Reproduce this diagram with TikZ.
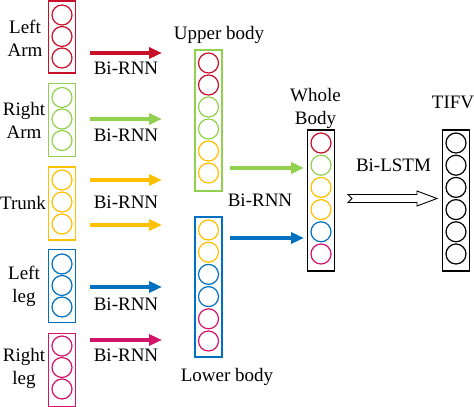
\documentclass[tikz,border=0pt]{standalone}
\usepackage{fontspec}
\setmainfont{Liberation Serif}
\usepackage{tikz}
\usetikzlibrary{arrows.meta}
\definecolor{cRed}{RGB}{200,16,40}
\definecolor{cGreen}{RGB}{146,208,80}
\definecolor{cYellow}{RGB}{255,192,0}
\definecolor{cBlue}{RGB}{0,112,192}
\definecolor{cPink}{RGB}{212,20,106}

\begin{document}
\begin{tikzpicture}[x=1pt,y=-1pt,
  font=\fontsize{19}{23}\selectfont,
  box/.style={draw=#1, line width=1.4pt, minimum width=27pt, inner sep=0pt},
  circ/.style={draw=#1, circle, line width=1.2pt, minimum size=20pt, inner sep=0pt},
  flow/.style={draw=#1, line width=3.5pt, -{Triangle[length=13pt,width=11pt]}},
  lbl/.style={align=center, inner sep=0pt}]
\useasboundingbox (0,0) rectangle (474,407);
% input parts
\node[box=cRed, minimum height=72pt] (LeftArm) at (62,37) {};
\node[box=cGreen, minimum height=73pt] (RightArm) at (62,120) {};
\node[box=cYellow, minimum height=73pt] (Trunk) at (62,203.5) {};
\node[box=cBlue, minimum height=73pt] (LeftLeg) at (62,286) {};
\node[box=cPink, minimum height=73pt] (RightLeg) at (62,370) {};
\foreach \y in {15,36.5,58} \node[circ=cRed] (LA\y) at (62,\y) {};
\foreach \y in {97.5,119,140.5} \node[circ=cGreen] (RA\y) at (62,\y) {};
\foreach \y in {180,202,224} \node[circ=cYellow] (TR\y) at (62,\y) {};
\foreach \y in {264,285.5,307} \node[circ=cBlue] (LL\y) at (62,\y) {};
\foreach \y in {346,367.5,389} \node[circ=cPink] (RL\y) at (62,\y) {};
\node[lbl] (LeftArmL) at (25,38.5) {Left\\Arm};
\node[lbl] (RightArmL) at (24,120) {Right\\Arm};
\node[lbl] (TrunkL) at (23,203) {Trunk};
\node[lbl] (LeftLegL) at (24,286) {Left\\leg};
\node[lbl] (RightLegL) at (24,368) {Right\\leg};
% first Bi-RNN layer
\foreach \n/\y in {a/53,b/119,c/180,d/225,e/287,f/340}{
  \coordinate (\n0) at (90,\y); \coordinate (\n1) at (162,\y);}
\draw[flow=cRed] (a0) -- (a1);
\draw[flow=cGreen] (b0) -- (b1);
\draw[flow=cYellow] (c0) -- (c1);
\draw[flow=cYellow] (d0) -- (d1);
\draw[flow=cBlue] (e0) -- (e1);
\draw[flow=cPink] (f0) -- (f1);
\foreach \y in {68,135,202,304,355} \node[lbl] (RNN\y) at (126,\y) {Bi-RNN};
% body halves
\node[box=cGreen, minimum height=141pt] (Upper) at (208.5,120.5) {};
\node[box=cBlue, minimum height=140pt] (Lower) at (208.5,287) {};
\foreach \c [count=\i from 0] in {cRed,cRed,cGreen,cGreen,cYellow,cYellow}
  \node[circ=\c] (U\i) at (208.5,63+22*\i) {};
\foreach \c [count=\i from 0] in {cYellow,cYellow,cBlue,cBlue,cPink,cPink}
  \node[circ=\c] (L\i) at (208.5,230+22.2*\i) {};
\node[lbl] (UpperL) at (219,35) {Upper body};
\node[lbl] (LowerL) at (227,377) {Lower body};
% second Bi-RNN layer
\coordinate (g0) at (230,168); \coordinate (g1) at (304,168);
\coordinate (h0) at (230,238); \coordinate (h1) at (304,238);
\draw[flow=cGreen] (g0) -- (g1);
\draw[flow=cBlue] (h0) -- (h1);
\node[lbl] (RNNmid) at (260,200) {Bi-RNN};
% whole body and TIFV
\node[box=black, minimum height=141pt] (Whole) at (321,200.5) {};
\node[box=black, minimum height=141pt] (TIFV) at (456,200.5) {};
\foreach \c [count=\i from 0] in {cRed,cGreen,cYellow,cYellow,cBlue,cPink}
  \node[circ=\c] (W\i) at (321,143+22.2*\i) {};
\foreach \i in {0,...,5}
  \node[circ=black] (T\i) at (456,143+22.2*\i) {};
\node[lbl] (WholeL) at (315.5,108) {Whole\\Body};
\node[lbl] (TIFVL) at (453,102) {TIFV};
% Bi-LSTM
\draw[line width=0.9pt] (348,194.5) -- (417,194.5) -- (417,191) -- (437,198.5)
  -- (417,206) -- (417,202.5) -- (348,202.5) -- (352,198.5) -- cycle;
\node[lbl] (LSTM) at (393.5,165) {Bi-LSTM};
\end{tikzpicture}
\end{document}
